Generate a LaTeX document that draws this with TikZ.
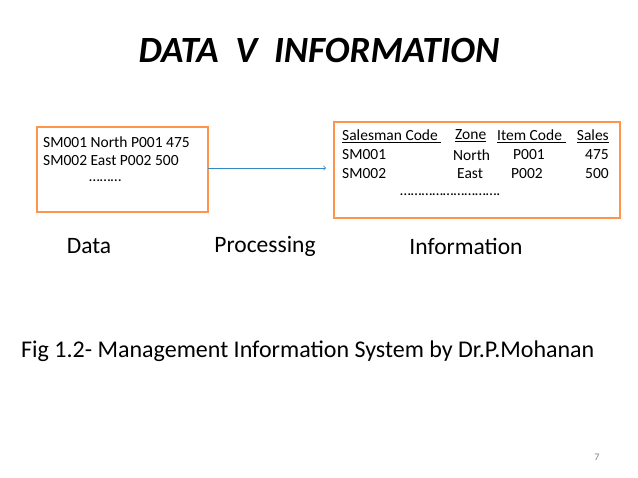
\documentclass[tikz,border=0pt]{standalone}
\usepackage{fontspec}
\setmainfont{Carlito}
\begin{document}
\begin{tikzpicture}[x=1pt,y=-1pt,
 box/.style={draw=orange!80!red!70,line width=1.5pt,inner sep=0},
 t/.style={font=\fontsize{15.5}{18}\selectfont,inner sep=0},
 lbl/.style={font=\fontsize{23.5}{28}\selectfont,inner sep=0}]
\useasboundingbox (0,0) rectangle (638,478);
\node[font=\fontsize{37}{42}\selectfont\bfseries\itshape] (title) at (319,50) {DATA\ \ V\ \ INFORMATION};
\node[box,minimum width=171pt,minimum height=85pt] (d) at (122.5,169.5) {};
\node[box,minimum width=286pt,minimum height=96pt] (i) at (477,170) {};
\node[t,anchor=west] (d1) at (43,142) {SM001 North P001 475};
\node[t,anchor=west] (d2) at (43,161) {SM002 East P002 500};
\node[t,anchor=west] (d3) at (89,181) {………};
\node[t,anchor=west] (h1) at (342,136) {\underline{Salesman Code\ }};
\node[t,anchor=west] (h2) at (455,136) {\underline{Zone}};
\node[t,anchor=west] (h3) at (497,136) {\underline{Item Code\ }};
\node[t,anchor=east] (h4) at (609,136) {\underline{Sales}};
\node[t,anchor=west] (r1) at (342,155) {SM001};
\node[t,anchor=west] (r2) at (453,155) {North};
\node[t,anchor=west] (r3) at (513,155) {P001};
\node[t,anchor=east] (r4) at (609,155) {475};
\node[t,anchor=west] (s1) at (342,174) {SM002};
\node[t,anchor=west] (s2) at (457,174) {East};
\node[t,anchor=west] (s3) at (511,174) {P002};
\node[t,anchor=east] (s4) at (609,174) {500};
\node[t,anchor=west] (dots) at (400,195) {……………………….};
\coordinate (a1) at (208,168);
\coordinate (a2) at (326,168);
\draw[->,color=blue!40!cyan!70!black!80,line width=0.8pt] (a1) -- (a2);
\node[lbl] (l1) at (89,246) {Data};
\node[lbl] (l2) at (265,246) {Processing};
\node[lbl] (l3) at (466,246) {Information};
\node[lbl,anchor=west,font=\fontsize{24}{28}\selectfont] (cap) at (21,351) {Fig 1.2- Management Information System by Dr.P.Mohanan};
\node[font=\fontsize{10}{12}\selectfont,text=gray] (pg) at (597,457) {7};
\end{tikzpicture}
\end{document}
